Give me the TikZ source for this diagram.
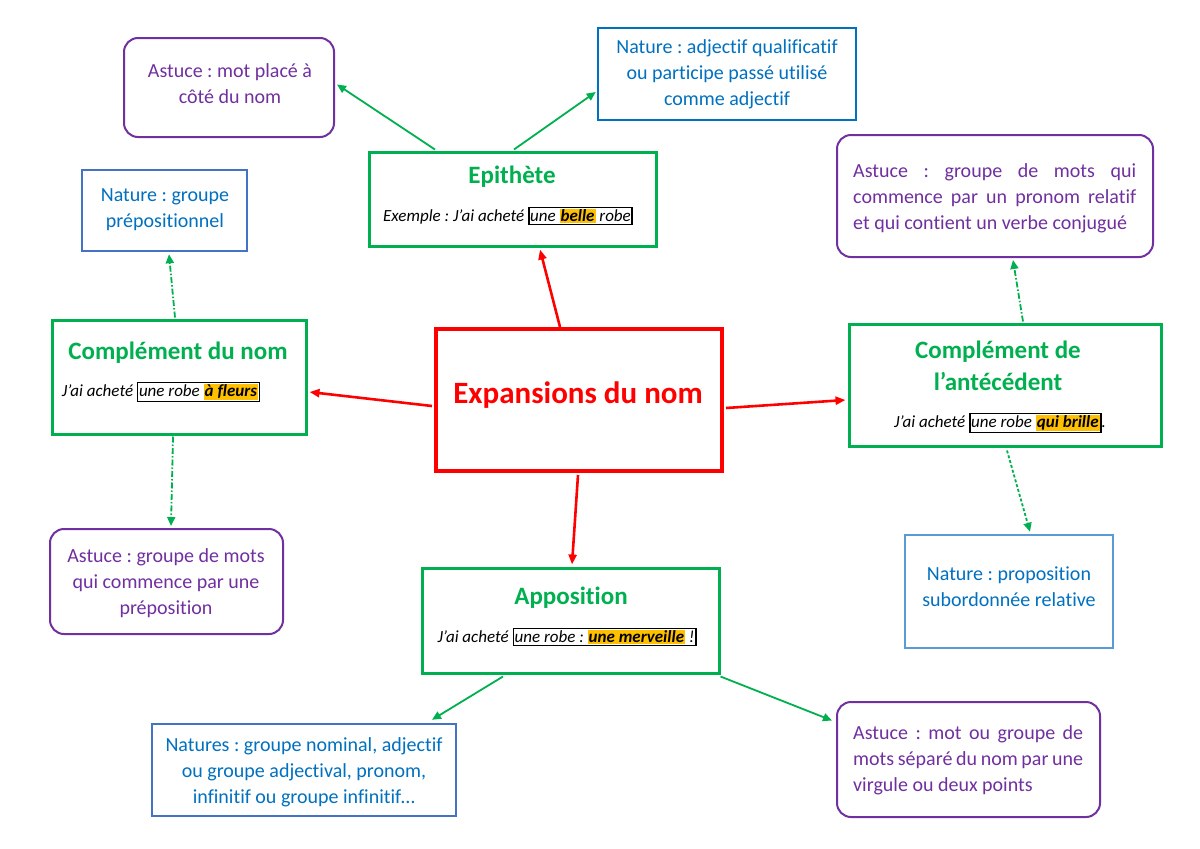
\documentclass[tikz,border=0pt]{standalone}
\usepackage{fontspec}
\setmainfont[Ligatures={NoCommon}]{Carlito}
\usetikzlibrary{arrows.meta,calc}
\definecolor{cgreen}{HTML}{00B050}
\definecolor{cred}{HTML}{FF0000}
\definecolor{cpurple}{HTML}{7030A0}
\definecolor{cblue}{HTML}{0070C0}
\definecolor{cblueb}{HTML}{4472C4}
\definecolor{cbluel}{HTML}{5B9BD5}
\definecolor{hlyel}{HTML}{FFC000}
\newcommand{\hlt}[1]{{\setlength{\fboxsep}{1pt}\colorbox{hlyel}{\bfseries #1}}}
\newcommand{\frm}[1]{{\setlength{\fboxsep}{0.6pt}\setlength{\fboxrule}{1.4pt}\fbox{#1}}}
\frenchspacing
\begin{document}
\begin{tikzpicture}[x=1pt,y=-1pt,
  rbox/.style={draw=cred,line width=4pt,inner sep=0pt},
  gbox/.style={draw=cgreen,line width=3pt,inner sep=0pt},
  pbox/.style={draw=cpurple,line width=2pt,rounded corners=14pt,inner sep=0pt},
  bbox/.style={draw=#1,line width=2.5pt,inner sep=0pt},
  title/.style={font=\fontsize{25}{32}\selectfont\bfseries,text=cgreen,inner sep=0pt},
  extxt/.style={font=\fontsize{17}{20}\selectfont\itshape,inner sep=0pt},
  ptxt/.style={font=\fontsize{20}{26}\selectfont,text=cpurple,inner sep=0pt},
  btxt/.style={font=\fontsize{20}{26}\selectfont,text=cblue,inner sep=0pt},
  rarr/.style={draw=cred,line width=2.6pt,-{Triangle[length=10pt,width=8pt]}},
  garr/.style={draw=cgreen,line width=1.8pt,-{Triangle[length=9pt,width=8pt]}},
  dd/.style={dash pattern=on 6pt off 2pt on 1.5pt off 2pt}
]
\fill[white] (0,0) rectangle (1200,849);
\useasboundingbox (0,0) rectangle (1200,849);

% central box
\node[rbox,minimum width=286,minimum height=142] (cen) at (579,400) {};
\node[font=\fontsize{31}{36}\selectfont\bfseries,text=cred,inner sep=0pt] (cent) at (578,395) {Expansions du nom};

% Epithete
\node[gbox,minimum width=287,minimum height=94] (epi) at (512.5,199) {};
\node[title] (epit) at (512,177) {Epithète};
\node[extxt] (epix) at (508,216) {Exemple : J’ai acheté \frm{une \hlt{belle} robe}};

% Complement du nom
\node[gbox,minimum width=254,minimum height=114] (cdn) at (179,377) {};
\node[title] (cdnt) at (178,353) {Complément du nom};
\node[extxt] (cdnx) at (161,392) {J’ai acheté \frm{une robe \hlt{à fleurs}}};

% Complement de l'antecedent
\node[gbox,minimum width=312,minimum height=122] (cda) at (1005,385) {};
\node[title,align=center] (cdat) at (998,366) {Complément de\\l’antécédent};
\node[extxt] (cdax) at (1000,423) {J’ai acheté \frm{une robe \hlt{qui brille}}.};

% Apposition
\node[gbox,minimum width=297,minimum height=105] (app) at (570.5,620.5) {};
\node[title] (appt) at (571,598) {Apposition};
\node[extxt] (appx) at (567,637) {J’ai acheté \frm{une robe : \hlt{une merveille} !}};

% Astuce mot place
\node[pbox,minimum width=210,minimum height=99] (a1) at (229,87.5) {};
\node[ptxt,align=center] (a1t) at (230,84) {Astuce : mot placé à\\côté du nom};

% Nature adjectif
\node[bbox=cblue,minimum width=258,minimum height=92] (n1) at (727,74) {};
\node[btxt,align=center] (n1t) at (727,74) {Nature : adjectif qualificatif\\ou participe passé utilisé\\comme adjectif};

% Nature groupe prepositionnel
\node[bbox=cblueb,minimum width=165,minimum height=81] (n2) at (164.5,210.5) {};
\node[btxt,align=center] (n2t) at (165,210) {Nature : groupe\\prépositionnel};

% Astuce right top
\node[pbox,minimum width=316,minimum height=122] (a2) at (995,196) {};
\node[ptxt,align=left,anchor=west] (a2t) at (853,198) {\makebox[283pt][s]{Astuce : groupe de mots qui}\\\makebox[283pt][s]{commence par un pronom relatif}\\et qui contient un verbe conjugué};

% Astuce left bottom
\node[pbox,minimum width=233,minimum height=105] (a3) at (166.5,581.5) {};
\node[ptxt,align=center] (a3t) at (166,583) {Astuce : groupe de mots\\qui commence par une\\préposition};

% Nature proposition subordonnee relative
\node[bbox=cbluel,minimum width=208,minimum height=113] (n3) at (1009,591.5) {};
\node[btxt,align=center] (n3t) at (1009,587) {Nature : proposition\\subordonnée relative};

% Natures groupe nominal
\node[bbox=cblueb,minimum width=304,minimum height=92] (n4) at (304,770) {};
\node[btxt,align=center] (n4t) at (304,772) {Natures : groupe nominal, adjectif\\ou groupe adjectival, pronom,\\infinitif ou groupe infinitif…};

% Astuce mot ou groupe
\node[pbox,minimum width=263,minimum height=115] (a4) at (968.5,759.5) {};
\node[ptxt,align=left,anchor=west] (a4t) at (853,760) {\makebox[230pt][s]{Astuce : mot ou groupe de}\\\makebox[230pt][s]{mots séparé du nom par une}\\virgule ou deux points};

% red arrows
\draw[rarr] ($(cen.north)+(-19,0)$) -- ($(epi.south)+(27.5,2)$);
\draw[rarr] ($(cen.west)+(-2,6)$) -- ($(cdn.east)+(2,15)$);
\draw[rarr] ($(cen.east)+(2,8)$) -- ($(cda.west)+(-2,15)$);
\draw[rarr] ($(cen.south)+(-1,2)$) -- ($(app.north)+(1.5,-2)$);

% green arrows
\draw[garr] ($(epi.north)+(-77.5,-1)$) -- ($(a1.east)+(2,-3)$);
\draw[garr] ($(epi.north)+(1.5,-1)$) -- ($(n1.west)+(-1,18)$);
\draw[garr,dd] ($(cdn.north)+(-4,-1)$) -- ($(n2.south)+(4.5,2)$);
\draw[garr,dd] ($(cdn.south)+(-6,1)$) -- ($(a3.north)+(4.5,-2)$);
\draw[garr,dd] ($(cda.north)+(18,-1)$) -- ($(a2.south)+(18,2)$);
\draw[garr,densely dashed] ($(cda.south)+(2,3)$) -- ($(n3.north)+(21,-2)$);
\draw[garr] ($(app.south)+(-67.5,2)$) -- ($(n4.north)+(128,-3)$);
\draw[garr] ($(app.south east)+(0,2)$) -- ($(a4.west)+(-4,-39)$);
\end{tikzpicture}
\end{document}
